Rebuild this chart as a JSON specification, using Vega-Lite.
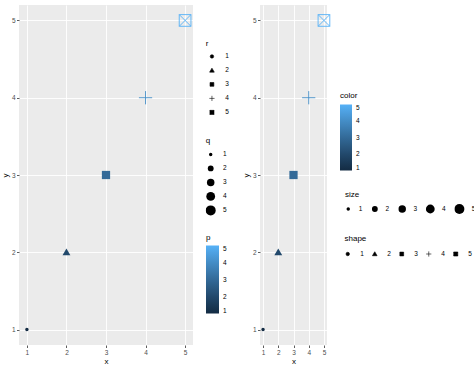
{
  "$schema": "https://vega.github.io/schema/vega-lite/v6.json",
  "autosize": {"type": "pad"},
  "padding": {"left": 1, "top": 5, "right": 0, "bottom": 0},
  "bounds": "flush",
  "spacing": 67,
  "background": "white",
  "data": {"values": [
    {"x": 1, "y": 1, "p": 1, "q": 1, "r": 1},
    {"x": 2, "y": 2, "p": 2, "q": 2, "r": 2},
    {"x": 3, "y": 3, "p": 3, "q": 3, "r": 3},
    {"x": 4, "y": 4, "p": 4, "q": 4, "r": 4},
    {"x": 5, "y": 5, "p": 5, "q": 5, "r": 5}
  ]},
  "config": {
    "font": "Liberation Sans",
    "view": {"fill": "#EBEBEB", "stroke": null},
    "axis": {
      "domain": false,
      "labelFontSize": 6.5,
      "labelColor": "#4D4D4D",
      "labelFlush": false,
      "labelOverlap": false,
      "tickColor": "#333333",
      "tickSize": 2.5,
      "tickWidth": 0.8,
      "titleFontSize": 8,
      "titleFontWeight": "normal",
      "titleColor": "black",
      "gridColor": "white",
      "labelPadding": 1.5,
      "titlePadding": 2
    },
    "legend": {
      "titleFontSize": 8,
      "titleFontWeight": "normal",
      "titleColor": "black",
      "labelFontSize": 6.5,
      "labelColor": "black",
      "titlePadding": 5,
      "labelOffset": 7,
      "rowPadding": 0,
      "orient": "none",
      "symbolFillColor": "black",
      "symbolStrokeColor": "black"
    }
  },
  "resolve": {
    "scale": {"color": "independent", "stroke": "independent", "size": "independent", "shape": "independent", "x": "independent", "y": "independent"},
    "legend": {"color": "independent", "size": "independent", "shape": "independent"}
  },
  "hconcat": [
    {
      "width": 174,
      "height": 340,
      "mark": {"type": "point", "filled": true, "opacity": 1},
      "encoding": {
        "x": {"field": "x", "type": "quantitative",
          "scale": {"domain": [0.8, 5.2], "nice": false, "zero": false},
          "axis": {"title": "x", "values": [1, 1.5, 2, 2.5, 3, 3.5, 4, 4.5, 5], "format": "d",
            "labelExpr": "datum.value % 1 === 0 ? datum.label : ''",
            "tickOpacity": {"condition": {"test": "datum.value % 1 === 0", "value": 1}, "value": 0},
            "gridWidth": {"condition": {"test": "datum.value % 1 === 0", "value": 0.9}, "value": 0.45}}},
        "y": {"field": "y", "type": "quantitative",
          "scale": {"domain": [0.8, 5.2], "nice": false, "zero": false},
          "axis": {"title": "y", "values": [1, 1.5, 2, 2.5, 3, 3.5, 4, 4.5, 5], "format": "d",
            "labelExpr": "datum.value % 1 === 0 ? datum.label : ''",
            "tickOpacity": {"condition": {"test": "datum.value % 1 === 0", "value": 1}, "value": 0},
            "gridWidth": {"condition": {"test": "datum.value % 1 === 0", "value": 0.9}, "value": 0.45}}},
        "color": {"field": "p", "type": "quantitative",
          "scale": {"domain": [1, 5], "range": ["#132B43", "#56B1F7"], "interpolate": "lab"},
          "legend": {"type": "gradient", "direction": "vertical", "title": "p", "legendX": 187, "legendY": 228.5, "gradientLength": 68, "gradientThickness": 13, "values": [1, 2, 3, 4, 5], "labelOffset": 4, "titlePadding": 4}},
        "stroke": {"field": "p", "type": "quantitative",
          "scale": {"zero": false, "range": ["#132B43", "#56B1F7"], "interpolate": "lab"},
          "legend": null},
        "size": {"field": "q", "type": "quantitative",
          "scale": {"zero": false, "range": [12, 100]},
          "legend": {"title": "q", "direction": "vertical", "legendX": 186.7, "legendY": 131.5, "values": [1, 2, 3, 4, 5], "symbolStrokeWidth": 0, "symbolType": "circle", "labelOffset": 7.3, "titlePadding": 3, "clipHeight": 13.8,
            "encode": {"entries": {"fill": {"value": "#F2F2F2"}, "width": {"value": 10}, "height": {"value": 13.8}}}}},
        "shape": {"field": "r", "type": "nominal",
          "scale": {"range": ["circle", "M0,-1.3L1.35,1L-1.35,1Z", "M-1.1,-1.1L1.1,-1.1L1.1,1.1L-1.1,1.1Z", "M-1.5,0L1.5,0M0,-1.5L0,1.5", "M-1.17,-1.17L1.17,-1.17L1.17,1.17L-1.17,1.17ZM-1.17,-1.17L1.17,1.17M-1.17,1.17L1.17,-1.17"]},
          "legend": {"title": "r", "direction": "vertical", "legendX": 186.7, "legendY": 35, "symbolSize": 12, "symbolStrokeWidth": 0.6, "symbolOffset": 3, "labelOffset": 10, "titlePadding": 1.5, "clipHeight": 13.8,
            "encode": {"entries": {"fill": {"value": "#F2F2F2"}, "width": {"value": 10}, "height": {"value": 13.8}}}}},
        "fillOpacity": {"condition": {"test": "datum.r >= 4", "value": 0}, "value": 1},
        "strokeWidth": {"condition": {"test": "datum.r >= 4", "value": 0.9}, "value": 0}
      }
    },
    {
      "width": 67,
      "height": 340,
      "mark": {"type": "point", "filled": true, "opacity": 1},
      "encoding": {
        "x": {"field": "x", "type": "quantitative",
          "scale": {"domain": [0.8, 5.2], "nice": false, "zero": false},
          "axis": {"title": "x", "values": [1, 1.5, 2, 2.5, 3, 3.5, 4, 4.5, 5], "format": "d",
            "labelExpr": "datum.value % 1 === 0 ? datum.label : ''",
            "tickOpacity": {"condition": {"test": "datum.value % 1 === 0", "value": 1}, "value": 0},
            "gridWidth": {"condition": {"test": "datum.value % 1 === 0", "value": 0.9}, "value": 0.45}}},
        "y": {"field": "y", "type": "quantitative",
          "scale": {"domain": [0.8, 5.2], "nice": false, "zero": false},
          "axis": {"title": "y", "values": [1, 1.5, 2, 2.5, 3, 3.5, 4, 4.5, 5], "format": "d",
            "labelExpr": "datum.value % 1 === 0 ? datum.label : ''",
            "tickOpacity": {"condition": {"test": "datum.value % 1 === 0", "value": 1}, "value": 0},
            "gridWidth": {"condition": {"test": "datum.value % 1 === 0", "value": 0.9}, "value": 0.45}}},
        "color": {"field": "p", "type": "quantitative",
          "scale": {"domain": [1, 5], "range": ["#132B43", "#56B1F7"], "interpolate": "lab"},
          "legend": {"type": "gradient", "direction": "vertical", "title": "color", "legendX": 80, "legendY": 87, "gradientLength": 66, "gradientThickness": 12, "values": [1, 2, 3, 4, 5], "labelOffset": 4, "titlePadding": 4.5}},
        "stroke": {"field": "p", "type": "quantitative",
          "scale": {"zero": false, "range": ["#132B43", "#56B1F7"], "interpolate": "lab"},
          "legend": null},
        "size": {"field": "q", "type": "quantitative",
          "scale": {"zero": false, "range": [12, 100]},
          "legend": {"title": "size", "legendX": 85, "legendY": 186, "direction": "horizontal", "values": [1, 2, 3, 4, 5], "columnPadding": 8.6, "labelOffset": 7.3, "titlePadding": 3, "symbolStrokeWidth": 0, "symbolType": "circle", "clipHeight": 13.8,
            "encode": {"entries": {"fill": {"value": "#F2F2F2"}, "width": {"value": 10}, "height": {"value": 13.8}}}}},
        "shape": {"field": "r", "type": "nominal",
          "scale": {"range": ["circle", "M0,-1.3L1.35,1L-1.35,1Z", "M-1.1,-1.1L1.1,-1.1L1.1,1.1L-1.1,1.1Z", "M-1.5,0L1.5,0M0,-1.5L0,1.5", "M-1.17,-1.17L1.17,-1.17L1.17,1.17L-1.17,1.17ZM-1.17,-1.17L1.17,1.17M-1.17,1.17L1.17,-1.17"]},
          "legend": {"title": "shape", "legendX": 84.5, "legendY": 230, "direction": "horizontal", "symbolSize": 12, "columnPadding": 7, "labelOffset": 9.3, "titlePadding": 4, "symbolStrokeWidth": 0.6, "clipHeight": 13.8,
            "encode": {"entries": {"fill": {"value": "#F2F2F2"}, "width": {"value": 10}, "height": {"value": 13.8}}}}},
        "fillOpacity": {"condition": {"test": "datum.r >= 4", "value": 0}, "value": 1},
        "strokeWidth": {"condition": {"test": "datum.r >= 4", "value": 0.9}, "value": 0}
      }
    }
  ]
}
